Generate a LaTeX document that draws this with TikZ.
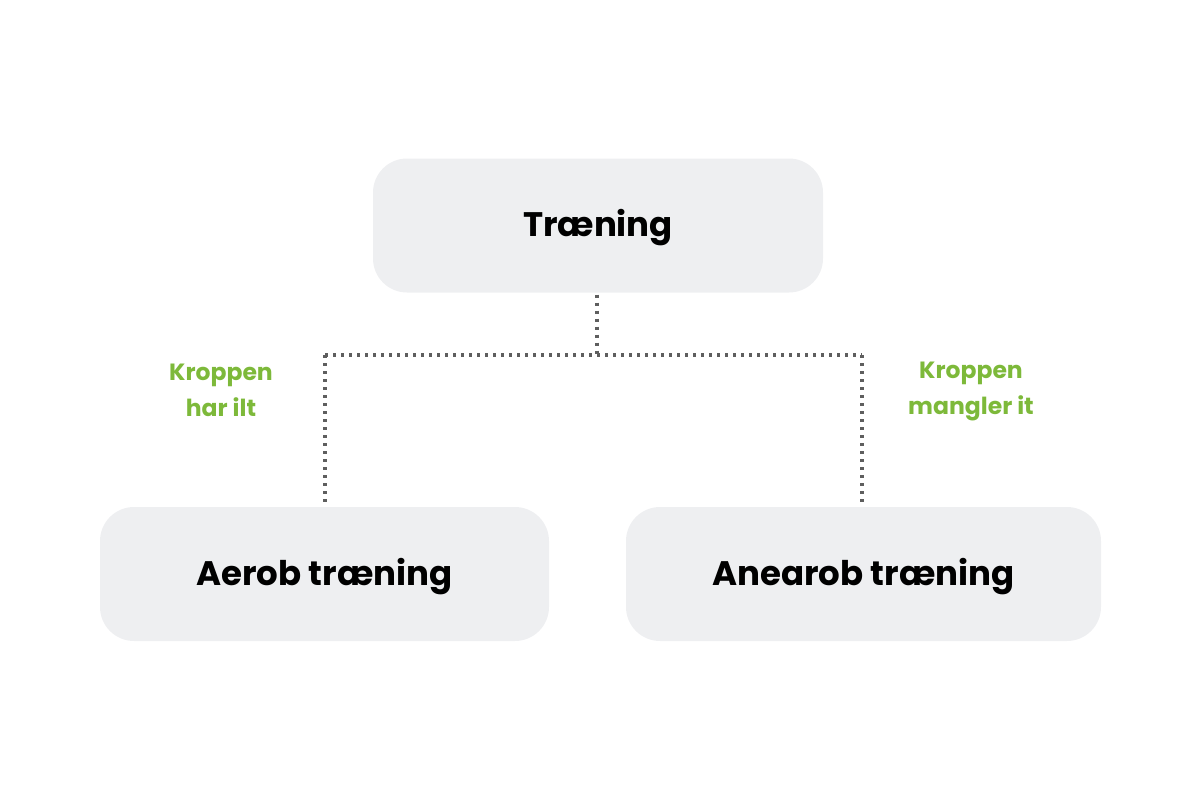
\documentclass[tikz,border=0pt]{standalone}
\usepackage{fontspec}
\setmainfont{Poppins}
\definecolor{boxfill}{HTML}{EEEFF1}
\definecolor{labgreen}{HTML}{7DB93A}
\definecolor{linegray}{HTML}{5E5E5E}
\newcommand{\lowered}[1]{\raisebox{-2.5pt}[\height][\depth]{#1}}
\begin{document}
\begin{tikzpicture}[x=1pt,y=-1pt,
  box/.style={rectangle, rounded corners=34pt, fill=boxfill, draw=none, minimum height=134pt, font=\fontsize{34}{38}\selectfont\bfseries, text=black},
  lab/.style={align=center, text=labgreen, font=\fontsize{23.5}{36}\selectfont\bfseries},
  conn/.style={draw=linegray, line width=3.3pt, dash pattern=on 3.3pt off 4.7pt}]
\path[use as bounding box] (0,0) rectangle (1200,800);
\node[box, minimum width=450pt] (top) at (598,225.5) {\lowered{Træning}};
\node[box, minimum width=449pt] (left) at (324.5,574) {\lowered{Aerob træning}};
\node[box, minimum width=475pt] (right) at (863.5,574) {\lowered{Anearob træning}};
\coordinate (mid) at (597,355);
\coordinate (lc) at (325,355);
\coordinate (rc) at (862,355);
\coordinate (le) at (325,503);
\coordinate (re) at (862,503);
\draw[conn] (top.south -| mid) ++(0,2) -- (mid);
\draw[conn] (lc) -- (rc);
\draw[conn] (lc) -- (le);
\draw[conn] (rc) -- (re);
\node[lab] (ll) at (221,390) {Kroppen\\har ilt};
\node[lab] (rl) at (971,391) {Kroppen\\mangler it};
\end{tikzpicture}
\end{document}
